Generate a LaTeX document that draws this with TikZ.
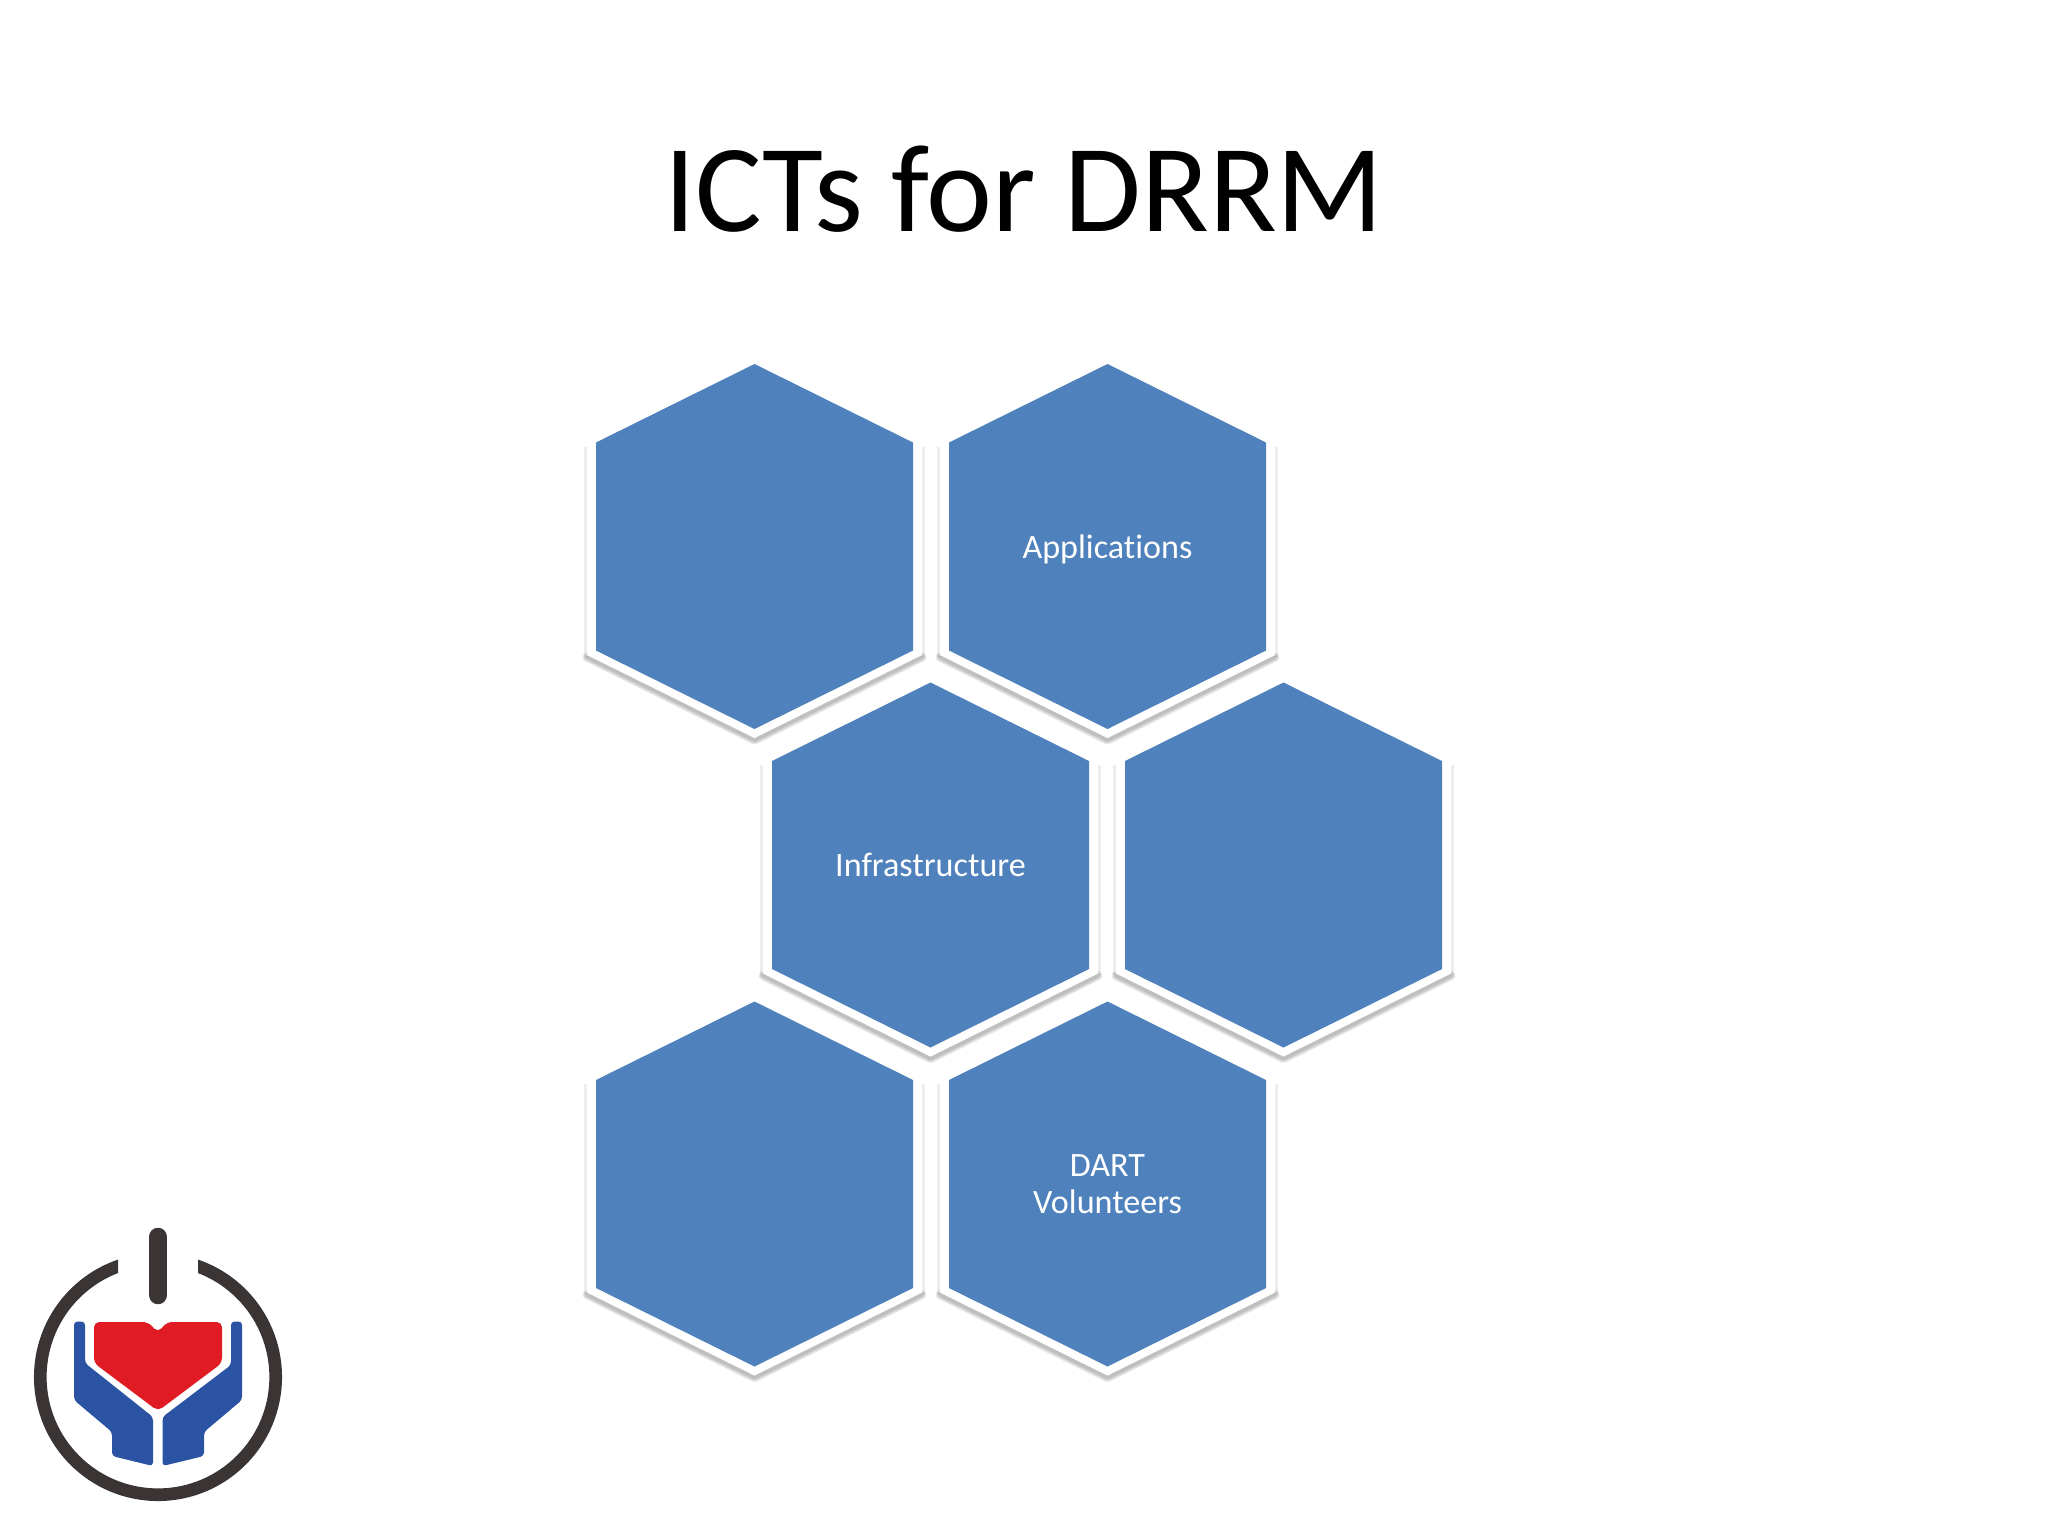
\documentclass[tikz,border=0pt]{standalone}
\usepackage{fontspec}
\setmainfont[Ligatures=NoCommon]{Carlito}
\definecolor{hexblue}{HTML}{4F81BD}
\definecolor{logoblue}{HTML}{2B53A4}
\definecolor{logored}{HTML}{E01B24}
\definecolor{logodark}{HTML}{3A3534}
\newcommand{\hexpath}{(0,-182.5) -- (158.5,-104) -- (158.5,104) -- (0,182.5) -- (-158.5,104) -- (-158.5,-104) -- cycle}
\newcommand{\hexouter}{(0,-191.5) -- (167.5,-108.5) -- (167.5,108.5) -- (0,191.5) -- (-167.5,108.5) -- (-167.5,-108.5) -- cycle}
\newcommand{\hexcell}[4]{%
  \begin{scope}[shift={(#2,#3)}]
    \foreach \w in {2.6,1.8,1.0}{\draw[black,opacity=0.09,line width=\w pt,line join=round,line cap=round,yshift=-0.6pt] (-167.5,108.5) -- (0,191.5) -- (167.5,108.5);}
    \foreach \s in {-168.5,168.5}{\draw[black,opacity=0.07,line width=1.1pt] (\s,-100) -- (\s,110);}
    \fill[white] \hexouter;
    \fill[hexblue] \hexpath;
    \node[hexlabel] (#1) at (0,0) {#4};
  \end{scope}}
\tikzset{
  hexlabel/.style={text=white,font=\fontsize{9.7pt}{10.7pt}\selectfont,align=center},
  titletext/.style={text=black,font=\fontsize{35.5pt}{40pt}\selectfont},
}
\begin{document}
\begin{tikzpicture}[x=0.01cm,y=-0.01cm]
\useasboundingbox (0,0) rectangle (2048,1536);
\fill[white] (0,0) rectangle (2048,1536);
\node[titletext] (title) at (1024,189) {ICTs for DRRM};
\hexcell{a}{754.5}{546.5}{}
\hexcell{b}{1107.5}{546.5}{\raisebox{0pt}[\height][0pt]{Applications}}
\hexcell{c}{930.5}{865}{Infrastructure}
\hexcell{d}{1283.5}{865}{}
\hexcell{e}{754.5}{1184}{}
\hexcell{f}{1107.5}{1184}{DART\\Volunteers}
% logo
\begin{scope}
\clip (0,1200) -- (118,1200) -- (118,1310) -- (198,1310) -- (198,1200) -- (330,1200) -- (330,1536) -- (0,1536) -- cycle;
\draw[logodark,line width=3.6pt] (158,1377) circle[radius=117.7];
\end{scope}
\draw[logodark,line width=5.26pt,line cap=round] (158,1237) -- (158,1295);
\fill[logored,rounded corners=1.5] (94,1322) -- (148,1322) -- (158,1332.5) -- (167,1322) -- (222,1322) -- (222,1363) -- (158,1411) -- (94,1363) -- cycle;
\fill[logoblue,rounded corners=1] (74,1321.5) -- (85,1321.5) -- (85,1363) -- (153,1417) -- (153,1466) -- (112,1456) -- (112,1432) -- (74,1400) -- cycle;
\fill[logoblue,rounded corners=1] (242,1321.5) -- (231,1321.5) -- (231,1365) -- (162.5,1417) -- (162.5,1466) -- (204,1456) -- (204,1432) -- (242,1400) -- cycle;
\end{tikzpicture}
\end{document}
